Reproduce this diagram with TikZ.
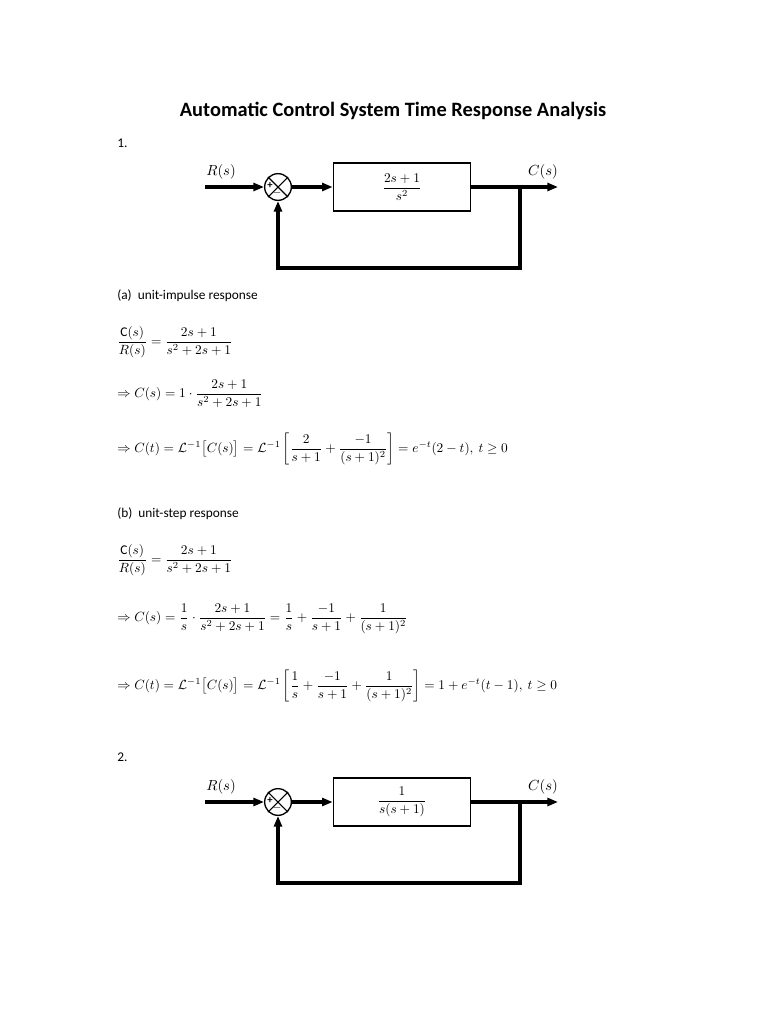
\documentclass[tikz,border=0pt]{standalone}
\usepackage{amsmath}
\usepackage{fontspec}
\setmainfont{Carlito}
\usetikzlibrary{arrows.meta,calc}
\begin{document}
\begin{tikzpicture}[x=0.75pt,y=-0.75pt,
  thick line/.style={line width=2.4pt},
  sig/.style={thick line,-{Triangle[length=8pt,width=6pt]}},
  blk/.style={draw,line width=1pt,minimum width=103pt,minimum height=36pt,inner sep=0pt},
  sum/.style={draw,circle,line width=1pt,minimum size=20pt,inner sep=0pt},
  txt/.style={anchor=west,inner sep=0pt,font=\fontsize{10}{12}\selectfont},
  eq/.style={anchor=west,inner sep=0pt,font=\fontsize{10}{12}\selectfont}]
\useasboundingbox (0,0) rectangle (768,1024);
\fill[white] (0,0) rectangle (768,1024);
\node[inner sep=0pt,font=\fontsize{15.3}{18}\selectfont\bfseries] (title) at (393,111) {Automatic Control System Time Response Analysis};
\node[txt] (n1) at (117,143) {1.};
\foreach \yy/\tf/\nm in {187/{\dfrac{2s+1}{s^{2}}}/a, 802/{\dfrac{1}{s(s+1)}}/b}{
  \node[sum] (S\nm) at (278,\yy) {};
  \draw[line width=0.8pt] (S\nm.north west) -- (S\nm.south east) (S\nm.north east) -- (S\nm.south west);
  \node[font=\footnotesize\bfseries,inner sep=0pt] (P\nm) at ($(S\nm)+(-8,-1)$) {+};
  \node[font=\footnotesize\bfseries,inner sep=0pt] (M\nm) at ($(S\nm)+(-1,6)$) {$-$};
  \node[blk] (B\nm) at (402,\yy) {$\tf$};
  \coordinate (I\nm) at (205,\yy);
  \coordinate (O\nm) at (558,\yy);
  \coordinate (K\nm) at (520,\yy);
  \coordinate (D\nm) at (520,\yy+81);
  \coordinate (E\nm) at (278,\yy+81);
  \node[font=\fontsize{11}{13}\selectfont,inner sep=0pt] (R\nm) at (221,\yy-15) {$R(s)$};
  \node[font=\fontsize{11}{13}\selectfont,inner sep=0pt] (C\nm) at (543,\yy-15) {$C(s)$};
  \draw[sig] (I\nm) -- (S\nm.west);
  \draw[sig] (S\nm.east) -- (B\nm.west);
  \draw[sig] (B\nm.east) -- (O\nm);
  \draw[sig] (K\nm) -- (D\nm) -- (E\nm) -- (S\nm.south);
}
\node[txt] (ta) at (117,296) {(a)\ \ unit-impulse response};
\node[eq] (e1) at (117,342) {$\dfrac{\mathrm{C}(s)}{R(s)}=\dfrac{2s+1}{s^{2}+2s+1}$};
\node[eq] (e2) at (117,394) {$\Rightarrow C(s)=1\cdot\dfrac{2s+1}{s^{2}+2s+1}$};
\node[eq] (e3) at (117,449) {$\Rightarrow C(t)=\mathcal{L}^{-1}\big[C(s)\big]=\mathcal{L}^{-1}\left[\dfrac{2}{s+1}+\dfrac{-1}{(s+1)^{2}}\right]=e^{-t}(2-t),\ t\geq0$};
\node[txt] (tb) at (117,514) {(b)\ \ unit-step response};
\node[eq] (e4) at (117,560) {$\dfrac{\mathrm{C}(s)}{R(s)}=\dfrac{2s+1}{s^{2}+2s+1}$};
\node[eq] (e5) at (117,619) {$\Rightarrow C(s)=\dfrac{1}{s}\cdot\dfrac{2s+1}{s^{2}+2s+1}=\dfrac{1}{s}+\dfrac{-1}{s+1}+\dfrac{1}{(s+1)^{2}}$};
\node[eq] (e6) at (117,686) {$\Rightarrow C(t)=\mathcal{L}^{-1}\big[C(s)\big]=\mathcal{L}^{-1}\left[\dfrac{1}{s}+\dfrac{-1}{s+1}+\dfrac{1}{(s+1)^{2}}\right]=1+e^{-t}(t-1),\ t\geq0$};
\node[txt] (n2) at (117,757) {2.};
\end{tikzpicture}
\end{document}
